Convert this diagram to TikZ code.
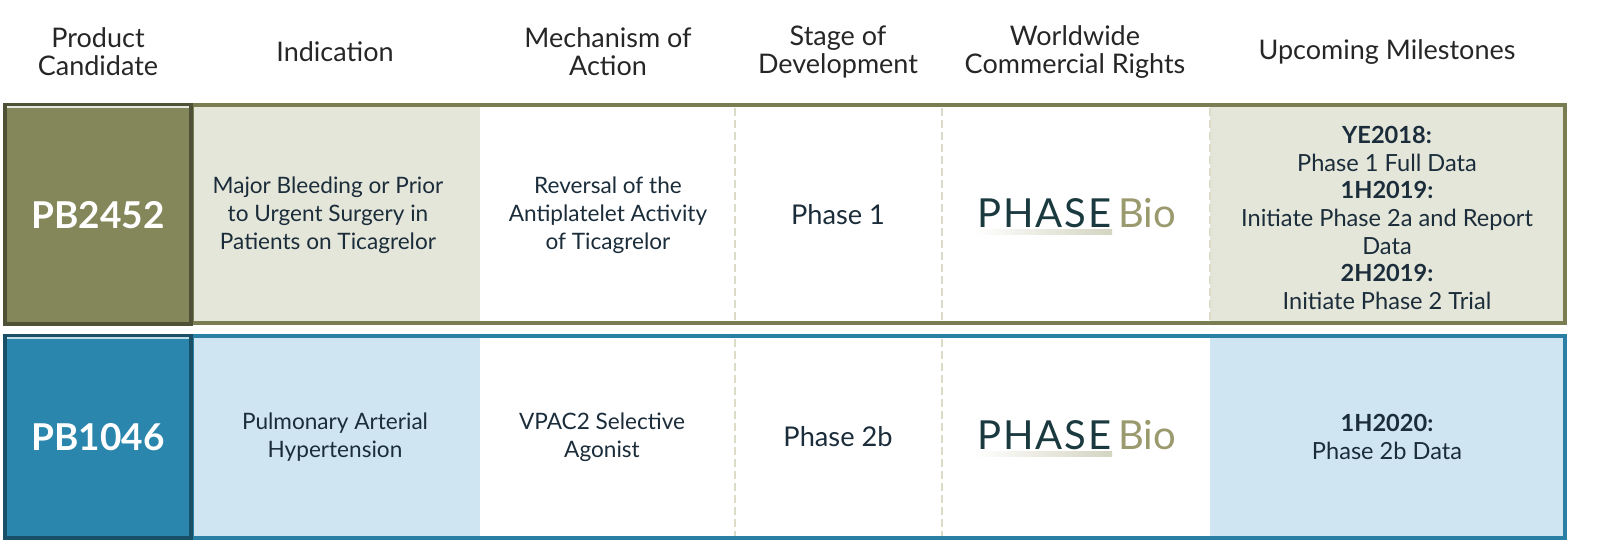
\documentclass[tikz,border=0pt]{standalone}
\usepackage{fontspec}
\setmainfont{Lato}
\begin{document}
\begin{tikzpicture}[x=0.5pt,y=-0.5pt,
  hdr/.style={align=center,font=\fontsize{13.5}{14}\selectfont,text=black!85},
  cell/.style={align=center,font=\fontsize{11.3}{14}\selectfont,text=txt},
  mile/.style={align=center,font=\fontsize{11.8}{13.8}\selectfont,text=txt},
  stage/.style={align=center,font=\fontsize{13.6}{14}\selectfont,text=txt},
  big/.style={font=\fontsize{18.5}{20}\selectfont\bfseries,text=white},
  sep/.style={draw=sepc,line width=1pt,dash pattern=on 4pt off 2pt}]
\definecolor{olive}{HTML}{83875A}
\definecolor{oliveb}{HTML}{7A7C52}
\definecolor{lolive}{HTML}{E5E6DA}
\definecolor{blu}{HTML}{2A86AC}
\definecolor{blub}{HTML}{2A7FA5}
\definecolor{lblu}{HTML}{CFE6F2}
\definecolor{txt}{HTML}{1B2D3A}
\definecolor{sepc}{HTML}{DCDBC8}
\definecolor{logod}{HTML}{1B3A40}
\definecolor{logol}{HTML}{9A9A6E}
\useasboundingbox (0,0) rectangle (1620,559);
% headers
\node[hdr] (h1) at (98,52) {Product\\Candidate};
\node[hdr] (h2) at (335,52) {Indication};
\node[hdr] (h3) at (608,52) {Mechanism of\\Action};
\node[hdr] (h4) at (838,52) {Stage of\\Development};
\node[hdr] (h5) at (1075,52) {Worldwide\\Commercial Rights};
\node[hdr] (h6) at (1387,52) {Upcoming Milestones};
% row 1
\fill[lolive] (192,105) rectangle (480,323);
\fill[white] (480,105) rectangle (1210,323);
\fill[lolive] (1210,105) rectangle (1565,323);
\draw[sep] (735,108) -- (735,320);
\draw[sep] (942,108) -- (942,320);
\draw[sep] (1210,108) -- (1210,320);
\draw[oliveb,line width=2pt] (192,105) rectangle (1565,323);
\fill[olive!60!black] (3,103) rectangle (193,326);
\fill[olive] (7,107) rectangle (189,322);
\draw[white!80!olive,line width=1pt] (7,107) -- (189,107);
\node[big] (p1) at (98,215) {PB2452};
\node[cell] (i1) at (328,215) {Major Bleeding or Prior\\to Urgent Surgery in\\Patients on Ticagrelor};
\node[cell] (m1) at (608,215) {Reversal of the\\Antiplatelet Activity\\of Ticagrelor};
\node[stage] (s1) at (838,215) {Phase 1};
\node[mile] (r1) at (1387,218) {\textbf{YE2018:}\\Phase 1 Full Data\\\textbf{1H2019:}\\Initiate Phase 2a and Report\\Data\\\textbf{2H2019:}\\Initiate Phase 2 Trial};
% row 2
\fill[lblu] (192,336) rectangle (480,538);
\fill[white] (480,336) rectangle (1210,538);
\fill[lblu] (1210,336) rectangle (1565,538);
\draw[sep] (735,339) -- (735,536);
\draw[sep] (942,339) -- (942,536);
\draw[blub,line width=2pt] (192,336) rectangle (1565,538);
\fill[blu!60!black] (3,334) rectangle (193,540);
\fill[blu] (7,338) rectangle (189,536);
\draw[white!70!blu,line width=1pt] (7,338) -- (189,338);
\node[big] (p2) at (98,437) {PB1046};
\node[cell] (i2) at (335,437) {Pulmonary Arterial\\Hypertension};
\node[cell] (m2) at (602,437) {VPAC2 Selective\\Agonist};
\node[stage] (s2) at (838,437) {Phase 2b};
\node[mile] (r2) at (1387,437) {\textbf{1H2020:}\\Phase 2b Data};
% logos
\foreach \y/\n in {215/a,437/b}{
  \node[font=\fontsize{20}{20}\selectfont,text=logod,inner sep=0pt,anchor=base east] (L\n) at (1112,\y+12) {P\kern1pt H\kern1pt A\kern1pt S\kern1pt E};
  \node[font=\fontsize{20}{20}\selectfont,text=logol,inner sep=0pt,anchor=base west] (B\n) at (1118,\y+12) {Bio};
  \shade[left color=white,right color=logol!70,opacity=0.6] (975,\y+14) rectangle (1112,\y+19);
}
\end{tikzpicture}
\end{document}
